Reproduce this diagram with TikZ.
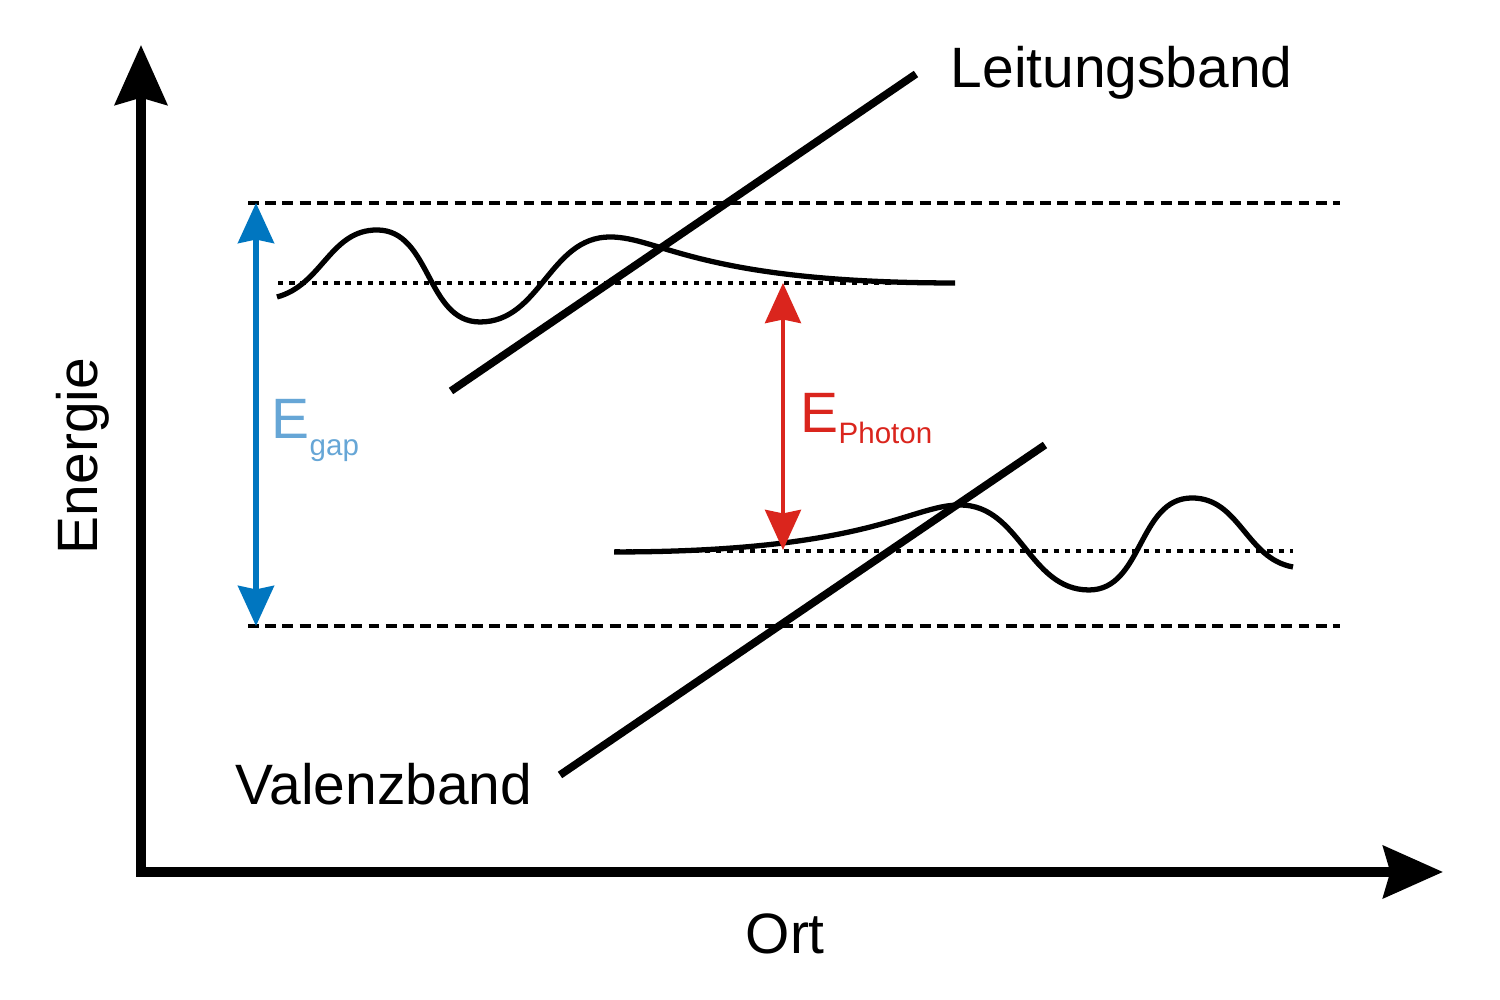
\documentclass[tikz,border=0pt]{standalone}
\usepackage{fontspec}
\setmainfont{Liberation Sans}
\usetikzlibrary{arrows.meta}
\definecolor{gapblue}{RGB}{0,118,192}
\definecolor{gaptext}{RGB}{102,166,214}
\definecolor{photonred}{RGB}{218,37,29}
\newcommand{\lowidx}[2]{\raisebox{-#1}{\fontsize{8.4}{10}\selectfont #2}}

\begin{document}
\begin{tikzpicture}[
        axistip/.tip={Stealth[length=17pt,width=14.8pt,inset=2pt]},
        smalltip/.tip={Stealth[length=11.4pt,width=10.2pt,inset=1pt]},
        axis/.style={line width=2.6pt,axistip-axistip},
        band/.style={line width=2.2pt},
        wave/.style={line width=1.5pt},
        level/.style={line width=1.35pt,dash pattern=on 3.1pt off 1.8pt},
        state/.style={line width=1.35pt,dash pattern=on 1.5pt off 1.7pt},
        energy/.style={smalltip-smalltip},
        lbl/.style={inner sep=0pt,font=\fontsize{16.2}{19}\selectfont}]
        \useasboundingbox (0,0) rectangle (15,10);

        % axes
        \draw[axis](1.41,9.55)--(1.41,1.28)--(14.43,1.28);
        \node[lbl,rotate=90,anchor=base](energie) at (0.98,5.44){Energie};
        \node[lbl,anchor=base west](ort) at (7.45,0.46){Ort};

        % band edges and levels
        \draw[level](2.48,7.97)--(13.40,7.97);
        \draw[level](2.48,3.74)--(13.40,3.74);
        \draw[state](2.78,7.17)--(9.55,7.17);
        \draw[state](6.15,4.49)--(12.93,4.49);

        \draw[band](4.51,6.09)--(9.16,9.26);
        \draw[band](5.60,2.25)--(10.45,5.55);
        \node[lbl,anchor=base west](lb) at (9.50,9.12){Leitungsband};
        \node[lbl,anchor=base west](vb) at (2.35,1.95){Valenzband};

        % wave functions
        \draw[wave](2.77,7.03) to[out=15,in=180] (3.77,7.70) to[out=0,in=180] (4.80,6.78)
            to[out=0,in=180] (6.10,7.63) .. controls (6.6,7.63) and (7.0,7.17) .. (9.55,7.17);
        \draw[wave](6.14,4.48) .. controls (8.70,4.48) and (9.10,4.95) .. (9.60,4.95)
            to[out=0,in=180] (10.89,4.10) to[out=0,in=180] (11.92,5.02) to[out=0,in=170] (12.93,4.33);

        % energies
        \coordinate (gaptop) at (2.56,7.97);
        \coordinate (gapbot) at (2.56,3.74);
        \coordinate (phtop) at (7.83,7.17);
        \coordinate (phbot) at (7.83,4.50);
        \draw[energy,line width=1.5pt,gapblue](gaptop)--(gapbot);
        \draw[energy,line width=1.2pt,photonred](phtop)--(phbot);
        \node[lbl,anchor=base west,text=gaptext](egap) at (2.71,5.61){E\lowidx{4.8pt}{gap}};
        \node[lbl,anchor=base west,text=photonred](ephoton) at (8.00,5.67){E\lowidx{3pt}{Photon}};
    \end{tikzpicture}
\end{document}
